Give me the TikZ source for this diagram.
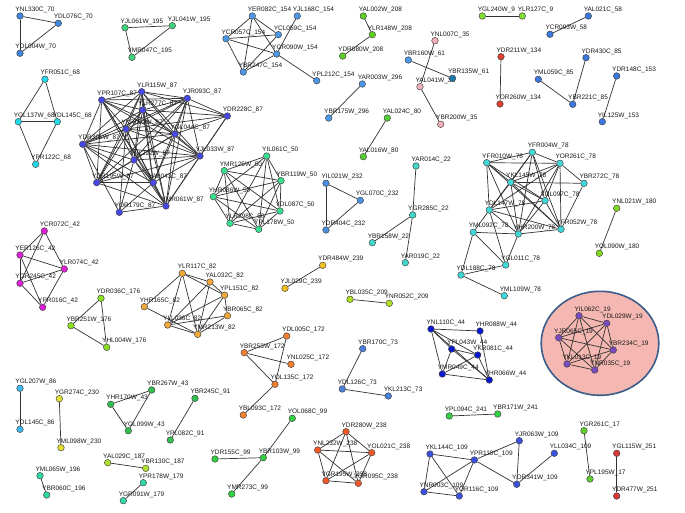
\documentclass[tikz,border=0pt]{standalone}
\usepackage{fontspec}
\setmainfont{Liberation Sans}
\pgfdeclarelayer{bgl}
\pgfdeclarelayer{edgel}
\pgfsetlayers{bgl,edgel,main}
\definecolor{c70}{HTML}{3F87DC}
\definecolor{c195}{HTML}{3FD27C}
\definecolor{c154}{HTML}{4A98E6}
\definecolor{c208}{HTML}{5CD020}
\definecolor{c35}{HTML}{F2B0B8}
\definecolor{c61}{HTML}{1A7AB0}
\definecolor{c80}{HTML}{50D030}
\definecolor{c9}{HTML}{80E030}
\definecolor{c58}{HTML}{3A78E0}
\definecolor{c134}{HTML}{E04030}
\definecolor{c68}{HTML}{20D8E8}
\definecolor{c87}{HTML}{4848E8}
\definecolor{c78}{HTML}{40D8D8}
\definecolor{c180}{HTML}{80D820}
\definecolor{c50}{HTML}{38E090}
\definecolor{c232}{HTML}{4A90E0}
\definecolor{c22}{HTML}{40D8C8}
\definecolor{c42}{HTML}{E020D8}
\definecolor{c176}{HTML}{88E020}
\definecolor{c82}{HTML}{F0A838}
\definecolor{c239}{HTML}{F0C020}
\definecolor{c209}{HTML}{B0E020}
\definecolor{c172}{HTML}{F08030}
\definecolor{c73}{HTML}{4A80E0}
\definecolor{c44}{HTML}{0818D0}
\definecolor{c19}{HTML}{7A4AC0}
\definecolor{c86}{HTML}{40B8F0}
\definecolor{c230}{HTML}{E0E030}
\definecolor{c43}{HTML}{30C050}
\definecolor{c187}{HTML}{B0E030}
\definecolor{c196}{HTML}{30D8A8}
\definecolor{c99}{HTML}{30D040}
\definecolor{c238}{HTML}{F05828}
\definecolor{c109}{HTML}{3A50E0}
\definecolor{c17}{HTML}{60D030}
\definecolor{c251}{HTML}{D83838}
\definecolor{ellfill}{HTML}{F5B7B1}
\definecolor{ellline}{HTML}{3B5D8C}
\tikzset{
 dot/.style={circle, draw=black!75, line width=0.45pt, minimum size=6.6pt, inner sep=0pt},
 lbl/.style={anchor=base west, inner sep=0pt, xshift=-4.7pt, yshift=1pt, font=\fontsize{6.5}{7}\selectfont, text=black!90},
 edge/.style={draw=black!80, line width=0.7pt},
}
\newcommand\gn[5]{\node[dot, fill=#5, label={[lbl]90:#1\_#2}] (#1#2) at (#3,#4) {};}
\newcommand\ed[2]{\draw[edge] (#1) -- (#2);}
\newcommand\clq[1]{\foreach \u [count=\i] in {#1}{\foreach \v [count=\j] in {#1}{\ifnum\i<\j \draw[edge] (\u) -- (\v);\fi}}}
\begin{document}
\begin{tikzpicture}[x=1pt,y=-1pt]
\useasboundingbox (0,0) rectangle (685,513);
\begin{pgfonlayer}{bgl}
\fill[white] (0,0) rectangle (685,513);
\draw[fill=ellfill, draw=ellline, line width=1.6pt] (600,343.3) ellipse [x radius=58.8pt, y radius=52pt];
\end{pgfonlayer}
% 70
\gn{YNL330C}{70}{20}{16}{c70}
\gn{YDL076C}{70}{58.3}{23.3}{c70}
\gn{YDL004W}{70}{20}{53.3}{c70}
% 195
\gn{YJL061W}{195}{125}{27.7}{c195}
\gn{YJL041W}{195}{172.3}{25.7}{c195}
\gn{YMR047C}{195}{132}{57.3}{c195}
% 154
\gn{YER082C}{154}{252.3}{16}{c154}
\gn{YJL168C}{154}{297.3}{16}{c154}
\gn{YCL059C}{154}{278.3}{34.7}{c154}
\gn{YCR057C}{154}{226}{38.7}{c154}
\gn{YGR090W}{154}{276.7}{54}{c154}
\gn{YBR247C}{154}{243.3}{72}{c154}
\gn{YPL212C}{154}{316.7}{80.7}{c154}
% 208
\gn{YAL002W}{208}{363.3}{16}{c208}
\gn{YLR148W}{208}{372.3}{34.7}{c208}
\gn{YDR080W}{208}{342.7}{56}{c208}
% 35
\gn{YNL007C}{35}{435}{40.7}{c35}
\gn{YAL041W}{35}{420}{86.7}{c35}
\gn{YBR200W}{35}{440.7}{124.3}{c35}
% 61
\gn{YBR160W}{61}{408.3}{60}{c154}
\gn{YBR135W}{61}{452.5}{78.3}{c61}
% 296
\gn{YAR003W}{296}{362.3}{84}{c154}
\gn{YBR175W}{296}{328.7}{118}{c154}
% 80
\gn{YAL024C}{80}{387.3}{118}{c80}
\gn{YAL016W}{80}{363.3}{156.7}{c80}
% 9
\gn{YGL240W}{9}{482.3}{16}{c9}
\gn{YLR127C}{9}{522.3}{16}{c9}
% 58
\gn{YAL021C}{58}{588.3}{16}{c58}
\gn{YCR093W}{58}{550}{34.3}{c58}
% 134
\gn{YDR211W}{134}{501}{56.7}{c134}
\gn{YOR260W}{134}{500}{104}{c134}
% 85
\gn{YDR430C}{85}{586}{57.7}{c58}
\gn{YML059C}{85}{538.3}{79.3}{c58}
\gn{YBR221C}{85}{572.7}{104.3}{c58}
% 153
\gn{YDR148C}{153}{616.7}{76}{c58}
\gn{YIL125W}{153}{602.3}{121.7}{c58}
% 68
\gn{YFR051C}{68}{45}{79.3}{c68}
\gn{YGL137W}{68}{18.3}{121.7}{c68}
\gn{YDL145C}{68}{57.3}{121.7}{c68}
\gn{YPR122C}{68}{35.7}{164.3}{c68}
% 87
\gn{YLR115W}{87}{141.7}{91.7}{c87}
\gn{YPR107C}{87}{101.7}{100}{c87}
\gn{YJR093C}{87}{187.3}{98.3}{c87}
\gn{YLR277C}{87}{142.7}{110}{c87}
\gn{YDR228C}{87}{227.3}{116}{c87}
\gn{YKR002W}{87}{126}{129}{c87}
\gn{YGL044C}{87}{175}{134}{c87}
\gn{YDR301W}{87}{82.7}{144.3}{c87}
\gn{YJL033W}{87}{200}{156}{c87}
\gn{YNL222W}{87}{134}{160}{c87}
\gn{YDR195W}{87}{96.7}{182.7}{c87}
\gn{YAL043C}{87}{153.3}{182.7}{c87}
\gn{YOR179C}{87}{119.3}{212.3}{c87}
\gn{YMR061W}{87}{166}{206}{c87}
% 78
\gn{YFR004W}{78}{532.3}{152.3}{c78}
\gn{YFR010W}{78}{486.7}{162.7}{c78}
\gn{YOR261C}{78}{560}{163.3}{c78}
\gn{YKL145W}{78}{510.7}{182.3}{c78}
\gn{YBR272C}{78}{584}{183.3}{c78}
\gn{YDL097C}{78}{545}{200.7}{c78}
\gn{YDL147W}{78}{489.3}{210}{c78}
\gn{YFR052W}{78}{561}{229.3}{c78}
\gn{YML092C}{78}{473.3}{232.3}{c78}
\gn{YHR200W}{78}{518.3}{234}{c78}
\gn{YGL011C}{78}{505.7}{265}{c78}
\gn{YDL188C}{78}{461}{275}{c78}
\gn{YML109W}{78}{504.3}{295.7}{c78}
% 180
\gn{YNL021W}{180}{616.7}{208.3}{c180}
\gn{YOL090W}{180}{599.3}{253.3}{c180}
% 50
\gn{YIL061C}{50}{266.7}{156}{c50}
\gn{YMR125W}{50}{224.3}{170.7}{c50}
\gn{YBR119W}{50}{281}{180.7}{c50}
\gn{YHR086W}{50}{213.3}{196.7}{c50}
\gn{YDL087C}{50}{280}{211}{c50}
\gn{YLR298C}{50}{230}{223.3}{c50}
\gn{YPL178W}{50}{258.7}{229.3}{c50}
% 232
\gn{YIL021W}{232}{326}{183.3}{c232}
\gn{YGL070C}{232}{360.3}{200.3}{c232}
\gn{YDR404C}{232}{326}{230}{c232}
% 22
\gn{YAR014C}{22}{416}{166}{c22}
\gn{YGR285C}{22}{412.7}{215}{c22}
\gn{YBR158W}{22}{372.3}{242.7}{c22}
\gn{YAR019C}{22}{405.3}{262.7}{c22}
% 239
\gn{YDR484W}{239}{322.7}{265.3}{c239}
\gn{YJL029C}{239}{285}{288.3}{c239}
% 42
\gn{YCR072C}{42}{44.3}{231}{c42}
\gn{YER126C}{42}{20}{255}{c42}
\gn{YLR074C}{42}{64.3}{269}{c42}
\gn{YGR245C}{42}{20}{283.3}{c42}
\gn{YPR016C}{42}{42.7}{307.3}{c42}
% 176
\gn{YDR036C}{176}{101}{298.3}{c176}
\gn{YBR251W}{176}{71}{325.7}{c176}
\gn{YHL004W}{176}{106.7}{347.3}{c176}
% 82
\gn{YLR117C}{82}{182.3}{273.3}{c82}
\gn{YAL032C}{82}{210}{282}{c82}
\gn{YHR165C}{82}{144.3}{306.7}{c82}
\gn{YPL151C}{82}{224.6}{295.2}{c82}
\gn{YBR065C}{82}{227.5}{315.7}{c82}
\gn{YLL036C}{82}{167.7}{325}{c82}
\gn{YMR213W}{82}{197.7}{334.3}{c82}
% 209
\gn{YBL035C}{209}{350}{299.3}{c209}
\gn{YNR052C}{209}{389.3}{303.3}{c209}
% 172
\gn{YDL005C}{172}{286.7}{336}{c172}
\gn{YBR253W}{172}{244.3}{352.7}{c172}
\gn{YNL025C}{172}{291}{364.3}{c172}
\gn{YOL135C}{172}{275}{384.3}{c172}
\gn{YBL093C}{172}{243.3}{415}{c172}
% 73
\gn{YBR170C}{73}{362.7}{348.7}{c73}
\gn{YDL126C}{73}{342.3}{389}{c73}
\gn{YKL213C}{73}{388.3}{396}{c73}
% 44
\gn{YNL110C}{44}{431}{329}{c44}
\gn{YHR088W}{44}{480}{331}{c44}
\gn{YPL043W}{44}{451.7}{349}{c44}
\gn{YKR081C}{44}{477.7}{355}{c44}
\gn{YMR049C}{44}{442.3}{374}{c44}
\gn{YHR066W}{44}{489.3}{380}{c44}
% 19
\gn{YIL062C}{19}{579}{315.7}{c19}
\gn{YDL029W}{19}{606.7}{323.3}{c19}
\gn{YJR065C}{19}{558.7}{337.7}{c19}
\gn{YBR234C}{19}{613.3}{350}{c19}
\gn{YKL013C}{19}{567}{364}{c19}
\gn{YNR035C}{19}{594.7}{370}{c19}
% 86
\gn{YGL207W}{86}{20}{388.3}{c86}
\gn{YDL145C}{86}{20}{429.3}{c86}
% 230
\gn{YGR274C}{230}{59.3}{398.7}{c230}
\gn{YML098W}{230}{61}{447.7}{c230}
% 43
\gn{YBR267W}{43}{151.7}{390}{c43}
\gn{YHR170W}{43}{110.7}{404.3}{c43}
\gn{YGL099W}{43}{128.3}{430.7}{c43}
% 91
\gn{YBR245C}{91}{195}{398.3}{c43}
\gn{YPL082C}{91}{170.3}{440}{c43}
% 187
\gn{YAL029C}{187}{107.7}{462.7}{c187}
\gn{YBR130C}{187}{145.7}{468.3}{c187}
% 196
\gn{YML065W}{196}{40}{475.7}{c196}
\gn{YBR060C}{196}{46.7}{495}{c196}
% 179
\gn{YPR178W}{179}{143.3}{482.7}{c196}
\gn{YGR091W}{179}{123.3}{500.7}{c196}
% 99
\gn{YOL068C}{99}{292.3}{418.3}{c99}
\gn{YBR103W}{99}{263.3}{457.7}{c99}
\gn{YDR155C}{99}{215}{459}{c99}
\gn{YMR273C}{99}{231.7}{494}{c99}
% 238
\gn{YDR280W}{238}{346}{431.7}{c238}
\gn{YNL232W}{238}{317.7}{450}{c238}
\gn{YOL021C}{238}{371.7}{452.7}{c238}
\gn{YGR195W}{238}{326}{480.7}{c238}
\gn{YGR095C}{238}{358.3}{483.3}{c238}
% 241
\gn{YPL094C}{241}{449.3}{416}{c99}
\gn{YBR171W}{241}{497.7}{414}{c99}
% 109
\gn{YKL144C}{109}{430}{454}{c109}
\gn{YNR003C}{109}{424}{491.7}{c109}
\gn{YOR116C}{109}{459.3}{496}{c109}
\gn{YPR110C}{109}{474.3}{460}{c109}
\gn{YJR063W}{109}{519.3}{440.7}{c109}
\gn{YOR341W}{109}{516.7}{484.3}{c109}
\gn{YLL034C}{109}{554.3}{453.3}{c109}
% 17
\gn{YGR261C}{17}{584}{430.7}{c17}
\gn{YPL195W}{17}{590}{479}{c17}
% 251
\gn{YGL115W}{251}{616.7}{453.3}{c251}
\gn{YDR477W}{251}{616.7}{496}{c251}

\begin{pgfonlayer}{edgel}
\clq{YNL330C70,YDL076C70,YDL004W70}
\clq{YJL061W195,YJL041W195,YMR047C195}
\ed{YER082C154}{YCR057C154}\ed{YER082C154}{YCL059C154}\ed{YER082C154}{YGR090W154}\ed{YER082C154}{YBR247C154}
\ed{YCR057C154}{YCL059C154}\ed{YCR057C154}{YGR090W154}\ed{YCR057C154}{YBR247C154}
\ed{YCL059C154}{YBR247C154}\ed{YGR090W154}{YBR247C154}\ed{YJL168C154}{YGR090W154}\ed{YGR090W154}{YPL212C154}
\ed{YAL002W208}{YLR148W208}\ed{YLR148W208}{YDR080W208}
\ed{YNL007C35}{YAL041W35}\ed{YAL041W35}{YBR200W35}
\ed{YBR160W61}{YBR135W61}
\ed{YAR003W296}{YBR175W296}
\ed{YAL024C80}{YAL016W80}
\ed{YGL240W9}{YLR127C9}
\ed{YAL021C58}{YCR093W58}
\ed{YDR211W134}{YOR260W134}
\ed{YDR430C85}{YBR221C85}\ed{YML059C85}{YBR221C85}
\ed{YDR148C153}{YIL125W153}
\ed{YFR051C68}{YGL137W68}\ed{YFR051C68}{YDL145C68}\ed{YGL137W68}{YDL145C68}\ed{YGL137W68}{YPR122C68}\ed{YDL145C68}{YPR122C68}
\clq{YLR115W87,YPR107C87,YJR093C87,YLR277C87,YKR002W87,YGL044C87,YDR301W87,YJL033W87,YNL222W87,YDR195W87,YAL043C87,YMR061W87}
\foreach \t in {YLR115W87,YJR093C87,YLR277C87,YGL044C87,YJL033W87,YMR061W87,YKR002W87}{\draw[edge] (YDR228C87) -- (\t);}
\foreach \t in {YDR301W87,YNL222W87,YAL043C87,YMR061W87,YKR002W87}{\draw[edge] (YOR179C87) -- (\t);}
\clq{YFR004W78,YFR010W78,YOR261C78,YKL145W78,YDL097C78,YDL147W78,YFR052W78,YHR200W78}
\ed{YBR272C78}{YOR261C78}\ed{YBR272C78}{YFR052W78}\ed{YBR272C78}{YKL145W78}
\ed{YML092C78}{YDL147W78}\ed{YML092C78}{YHR200W78}\ed{YML092C78}{YGL011C78}\ed{YML092C78}{YDL188C78}
\ed{YGL011C78}{YHR200W78}\ed{YGL011C78}{YDL147W78}\ed{YGL011C78}{YDL188C78}\ed{YDL188C78}{YML109W78}
\ed{YNL021W180}{YOL090W180}
\clq{YIL061C50,YMR125W50,YBR119W50,YHR086W50,YDL087C50,YLR298C50,YPL178W50}
\clq{YIL021W232,YGL070C232,YDR404C232}
\ed{YAR014C22}{YGR285C22}\ed{YGR285C22}{YBR158W22}\ed{YGR285C22}{YAR019C22}
\ed{YDR484W239}{YJL029C239}
\clq{YCR072C42,YER126C42,YLR074C42,YGR245C42}
\ed{YER126C42}{YPR016C42}\ed{YLR074C42}{YPR016C42}\ed{YGR245C42}{YPR016C42}
\clq{YDR036C176,YBR251W176,YHL004W176}
\ed{YLR117C82}{YAL032C82}\ed{YLR117C82}{YHR165C82}\ed{YLR117C82}{YLL036C82}\ed{YLR117C82}{YMR213W82}\ed{YLR117C82}{YPL151C82}
\ed{YHR165C82}{YMR213W82}\ed{YAL032C82}{YLL036C82}\ed{YAL032C82}{YMR213W82}\ed{YAL032C82}{YPL151C82}
\ed{YPL151C82}{YLL036C82}\ed{YPL151C82}{YMR213W82}\ed{YPL151C82}{YBR065C82}\ed{YBR065C82}{YMR213W82}
\ed{YLL036C82}{YMR213W82}\ed{YBR065C82}{YLL036C82}
\ed{YBL035C209}{YNR052C209}
\ed{YDL005C172}{YBR253W172}\ed{YDL005C172}{YOL135C172}\ed{YBR253W172}{YNL025C172}\ed{YBR253W172}{YOL135C172}\ed{YOL135C172}{YBL093C172}
\ed{YBR170C73}{YDL126C73}\ed{YDL126C73}{YKL213C73}
\ed{YNL110C44}{YHR088W44}\ed{YNL110C44}{YPL043W44}\ed{YNL110C44}{YMR049C44}\ed{YNL110C44}{YKR081C44}\ed{YNL110C44}{YHR066W44}
\ed{YHR088W44}{YHR066W44}\ed{YPL043W44}{YKR081C44}\ed{YPL043W44}{YMR049C44}\ed{YPL043W44}{YHR066W44}
\ed{YKR081C44}{YMR049C44}\ed{YKR081C44}{YHR066W44}\ed{YMR049C44}{YHR066W44}
\clq{YIL062C19,YDL029W19,YJR065C19,YBR234C19,YKL013C19,YNR035C19}
\ed{YGL207W86}{YDL145C86}
\ed{YGR274C230}{YML098W230}
\clq{YBR267W43,YHR170W43,YGL099W43}
\ed{YBR245C91}{YPL082C91}
\ed{YAL029C187}{YBR130C187}
\ed{YML065W196}{YBR060C196}
\ed{YPR178W179}{YGR091W179}
\ed{YOL068C99}{YBR103W99}\ed{YDR155C99}{YBR103W99}\ed{YBR103W99}{YMR273C99}
\clq{YDR280W238,YNL232W238,YOL021C238,YGR195W238,YGR095C238}
\ed{YPL094C241}{YBR171W241}
\ed{YKL144C109}{YPR110C109}\ed{YKL144C109}{YNR003C109}\ed{YKL144C109}{YOR116C109}
\ed{YNR003C109}{YPR110C109}\ed{YNR003C109}{YOR116C109}\ed{YPR110C109}{YOR116C109}
\ed{YPR110C109}{YJR063W109}\ed{YPR110C109}{YOR341W109}\ed{YJR063W109}{YOR341W109}\ed{YLL034C109}{YOR341W109}
\ed{YGR261C17}{YPL195W17}
\ed{YGL115W251}{YDR477W251}
\end{pgfonlayer}
\end{tikzpicture}
\end{document}
